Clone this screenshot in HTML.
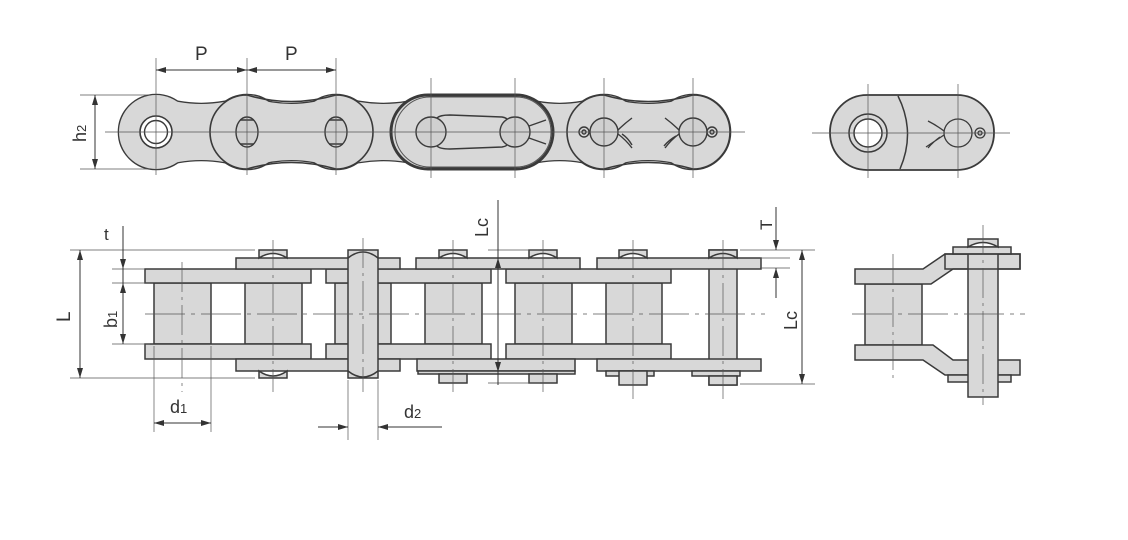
<!DOCTYPE html>
<html><head><meta charset="utf-8"><style>
html,body{margin:0;padding:0;background:#fff;}
svg{display:block;}
text{font-family:"Liberation Sans",sans-serif;fill:#333;}
</style></head><body>
<svg width="1128" height="540" viewBox="0 0 1128 540" xmlns="http://www.w3.org/2000/svg">
<defs>
<marker id="a" viewBox="0 0 10 6" refX="10" refY="3" markerWidth="10" markerHeight="6" orient="auto-start-reverse" markerUnits="userSpaceOnUse"><path d="M0,0 L10,3 L0,6 Z" fill="#333"/></marker>
</defs>
<rect width="1128" height="540" fill="#fff"/>

<!-- ===== TOP VIEW ===== -->
<g id="chainTop">
<!-- stroke layer -->
<g stroke="#3a3a3a" stroke-width="2.6" fill="#3a3a3a">
<circle cx="156" cy="132" r="37"/><circle cx="247" cy="132" r="37"/><circle cx="336" cy="132" r="37"/>
<circle cx="604" cy="132" r="37"/><circle cx="693" cy="132" r="37"/>
<path d="M156 96 Q201 112 247 96 L247 168 Q201 152 156 168Z"/>
<path d="M247 96 Q291 112 336 96 L336 168 Q291 152 247 168Z"/>
<path d="M336 96 Q383 112 431 96 L431 168 Q383 152 336 168Z"/>
<path d="M515 96 Q560 112 604 96 L604 168 Q560 152 515 168Z"/>
<path d="M604 96 Q648 112 693 96 L693 168 Q648 152 604 168Z"/>
</g>
<g fill="#d8d8d8">
<circle cx="156" cy="132" r="37"/><circle cx="247" cy="132" r="37"/><circle cx="336" cy="132" r="37"/>
<circle cx="604" cy="132" r="37"/><circle cx="693" cy="132" r="37"/>
<path d="M156 96 Q201 112 247 96 L247 168 Q201 152 156 168Z"/>
<path d="M247 96 Q291 112 336 96 L336 168 Q291 152 247 168Z"/>
<path d="M336 96 Q383 112 431 96 L431 168 Q383 152 336 168Z"/>
<path d="M515 96 Q560 112 604 96 L604 168 Q560 152 515 168Z"/>
<path d="M604 96 Q648 112 693 96 L693 168 Q648 152 604 168Z"/>
</g>
<!-- outer plate 247-336 outline -->
<g stroke="#3a3a3a" stroke-width="1.6" fill="none">
<path d="M247 95 A37 37 0 0 0 247 169 Q291 156 336 169 A37 37 0 0 0 336 95 Q291 108 247 95Z"/>
<path d="M604 95 A37 37 0 0 0 604 169 Q648 156 693 169 A37 37 0 0 0 693 95 Q648 108 604 95Z"/>
</g>
<!-- connector plate -->
<rect x="391" y="95" width="162" height="74" rx="37" fill="#d8d8d8" stroke="#3a3a3a" stroke-width="3"/>
<rect x="395" y="97" width="156" height="70" rx="35" fill="none" stroke="#555" stroke-width="1"/>
<!-- holes -->
<circle cx="156" cy="132" r="16" fill="#fff" stroke="#3a3a3a" stroke-width="1.6"/>
<circle cx="156" cy="132" r="11.5" fill="#fff" stroke="#3a3a3a" stroke-width="1.4"/>
<g stroke="#3a3a3a" stroke-width="1.4" fill="#d0d0d0">
<ellipse cx="247" cy="132" rx="11" ry="15"/><ellipse cx="336" cy="132" rx="11" ry="15"/>
<path d="M240 120 H254 M240 144 H254 M329 120 H343 M329 144 H343" fill="none"/>
<path d="M437 118 Q440 115 450 115 L502 117 Q508 118 509 122 L509 142 Q508 146 502 147 L450 149 Q440 149 437 146Z" fill="#d8d8d8"/>
<ellipse cx="431" cy="132" rx="15" ry="15"/>
<ellipse cx="515" cy="132" rx="15" ry="15"/>
<path d="M529 126 L546 120 M529 138 L546 144" fill="none"/>
<circle cx="604" cy="132" r="14"/><circle cx="693" cy="132" r="14"/>
<circle cx="584" cy="132" r="5" fill="#d8d8d8"/><circle cx="584" cy="132" r="2" fill="#d8d8d8"/>
<circle cx="712" cy="132" r="5" fill="#d8d8d8"/><circle cx="712" cy="132" r="2" fill="#d8d8d8"/>
<path d="M618 130 Q624 124 632 118 M618 134 Q626 140 632 148 M622 134 Q628 138 632 145" fill="none"/>
<path d="M679 130 Q673 124 665 118 M679 134 Q671 140 665 148 M676 136 Q669 140 664 146" fill="none"/>
</g>
</g>
<!-- top centerlines -->
<g stroke="#555" stroke-width="0.7">
<line x1="105" y1="132" x2="745" y2="132"/>
<line x1="156" y1="58" x2="156" y2="175"/><line x1="247" y1="58" x2="247" y2="175"/><line x1="336" y1="58" x2="336" y2="175"/>
<line x1="431" y1="78" x2="431" y2="178"/><line x1="515" y1="78" x2="515" y2="178"/>
<line x1="604" y1="78" x2="604" y2="178"/><line x1="693" y1="78" x2="693" y2="178"/>
<line x1="80" y1="95" x2="150" y2="95"/><line x1="80" y1="169" x2="150" y2="169"/>
</g>
<g stroke="#333" stroke-width="1" fill="none">
<line x1="156" y1="70" x2="247" y2="70" marker-start="url(#a)" marker-end="url(#a)"/>
<line x1="247" y1="70" x2="336" y2="70" marker-start="url(#a)" marker-end="url(#a)"/>
<line x1="95" y1="95" x2="95" y2="169" marker-start="url(#a)" marker-end="url(#a)"/>
</g>
<text x="195" y="60" font-size="19">P</text>
<text x="285" y="60" font-size="19">P</text>
<text transform="translate(86,142) rotate(-90)" font-size="18">h<tspan font-size="13">2</tspan></text>

<!-- right top view -->
<rect x="830" y="95" width="164" height="75" rx="37" fill="#d8d8d8" stroke="#3a3a3a" stroke-width="1.8"/>
<path d="M898 96 Q916 132 900 169" stroke="#3a3a3a" stroke-width="1.5" fill="none"/>
<circle cx="868" cy="133" r="19" fill="#d8d8d8" stroke="#3a3a3a" stroke-width="1.5"/>
<circle cx="868" cy="133" r="14" fill="#fff" stroke="#3a3a3a" stroke-width="1.5"/>
<g stroke="#3a3a3a" stroke-width="1.3" fill="#d8d8d8">
<circle cx="958" cy="133" r="14"/><circle cx="980" cy="133" r="5"/><circle cx="980" cy="133" r="2"/>
<path d="M944 131 Q936 125 928 121 M944 135 Q935 141 926 147 M940 137 Q933 142 928 148" fill="none"/>
</g>
<g stroke="#555" stroke-width="0.7">
<line x1="812" y1="133" x2="1010" y2="133"/>
<line x1="868" y1="84" x2="868" y2="178"/><line x1="958" y1="84" x2="958" y2="178"/>
</g>

<!-- ===== BOTTOM VIEW ===== -->
<g stroke="#3a3a3a" stroke-width="1.5" fill="#d8d8d8">
<!-- rollers -->
<rect x="154" y="283" width="57" height="61"/><rect x="245" y="283" width="57" height="61"/>
<rect x="335" y="283" width="56" height="61"/>
<rect x="425" y="283" width="57" height="61"/><rect x="515" y="283" width="57" height="61"/>
<rect x="606" y="283" width="56" height="61"/>
<!-- last pin body -->
<rect x="709" y="250" width="28" height="135"/>
<!-- inner plates -->
<rect x="145" y="269" width="166" height="14"/><rect x="326" y="269" width="165" height="14"/><rect x="506" y="269" width="165" height="14"/>
<rect x="145" y="344" width="166" height="15"/><rect x="326" y="344" width="165" height="15"/><rect x="506" y="344" width="165" height="15"/>
<!-- outer plates -->
<rect x="236" y="258" width="164" height="11"/><rect x="416" y="258" width="164" height="11"/><rect x="597" y="258" width="164" height="11"/>
<rect x="236" y="359" width="164" height="12"/><rect x="417" y="359" width="158" height="12"/><rect x="597" y="359" width="164" height="12"/>
<rect x="418" y="371" width="157" height="3"/>
<rect x="606" y="371" width="48" height="5"/><rect x="692" y="371" width="48" height="5"/>
<!-- pin heads top -->
<path d="M259 258 V250 H287 V258 Q273 249 259 258Z"/>
<path d="M439 258 V250 H467 V258 Q453 249 439 258Z"/>
<path d="M529 258 V250 H557 V258 Q543 249 529 258Z"/>
<path d="M619 258 V250 H647 V258 Q633 249 619 258Z"/>
<path d="M709 258 V250 H737 V258 Q723 249 709 258Z"/>
<!-- bottom heads -->
<path d="M259 371 V378 H287 V371 Q273 381 259 371Z"/>
<rect x="439" y="374" width="28" height="9"/><rect x="529" y="374" width="28" height="9"/>
<rect x="619" y="371" width="28" height="14"/><rect x="709" y="376" width="28" height="9"/>
<!-- connecting pin -->
<path d="M348 250 H378 V378 H348Z"/>
<path d="M348 258 Q363 246 378 258 M348 371 Q363 383 378 371" fill="none"/>
</g>
<!-- center lines bottom -->
<g stroke="#555" stroke-width="0.7">
<line x1="145" y1="314" x2="765" y2="314" stroke-dasharray="40 6 4 6"/>
<line x1="182" y1="262" x2="182" y2="392" stroke-dasharray="30 5 3 5"/>
<line x1="273" y1="240" x2="273" y2="392" stroke-dasharray="30 5 3 5"/>
<line x1="363" y1="238" x2="363" y2="392" stroke-dasharray="30 5 3 5"/>
<line x1="453" y1="240" x2="453" y2="392" stroke-dasharray="30 5 3 5"/>
<line x1="543" y1="240" x2="543" y2="392" stroke-dasharray="30 5 3 5"/>
<line x1="633" y1="240" x2="633" y2="402" stroke-dasharray="30 5 3 5"/>
<line x1="723" y1="240" x2="723" y2="402" stroke-dasharray="30 5 3 5"/>
<!-- extension lines -->
<line x1="70" y1="250" x2="255" y2="250"/><line x1="70" y1="378" x2="255" y2="378"/>
<line x1="112" y1="269" x2="145" y2="269"/><line x1="112" y1="283" x2="150" y2="283"/>
<line x1="112" y1="344" x2="150" y2="344"/>
<line x1="154" y1="346" x2="154" y2="432"/><line x1="211" y1="346" x2="211" y2="432"/>
<line x1="348" y1="380" x2="348" y2="440"/><line x1="378" y1="380" x2="378" y2="440"/>
<line x1="488" y1="250" x2="540" y2="250"/><line x1="488" y1="383" x2="540" y2="383"/>
<line x1="740" y1="250" x2="815" y2="250"/><line x1="760" y1="258" x2="790" y2="258"/><line x1="760" y1="268" x2="790" y2="268"/>
<line x1="740" y1="384" x2="815" y2="384"/>
</g>
<g stroke="#333" stroke-width="1" fill="none">
<line x1="80" y1="250" x2="80" y2="378" marker-start="url(#a)" marker-end="url(#a)"/>
<line x1="123" y1="226" x2="123" y2="269" marker-end="url(#a)"/>
<line x1="123" y1="283" x2="123" y2="269"/>
<line x1="123" y1="283" x2="123" y2="344" marker-start="url(#a)" marker-end="url(#a)"/>
<line x1="154" y1="423" x2="211" y2="423" marker-start="url(#a)" marker-end="url(#a)"/>
<line x1="318" y1="427" x2="348" y2="427" marker-end="url(#a)"/>
<line x1="442" y1="427" x2="378" y2="427" marker-end="url(#a)"/>
<line x1="498" y1="200" x2="498" y2="385"/>
<line x1="498" y1="270" x2="498" y2="258" marker-end="url(#a)"/>
<line x1="498" y1="360" x2="498" y2="372" marker-end="url(#a)"/>
<line x1="776" y1="207" x2="776" y2="250" marker-end="url(#a)"/>
<line x1="776" y1="298" x2="776" y2="268" marker-end="url(#a)"/>
<line x1="802" y1="250" x2="802" y2="384" marker-start="url(#a)" marker-end="url(#a)"/>
</g>
<text transform="translate(70,322) rotate(-90)" font-size="19">L</text>
<text x="104" y="240" font-size="17">t</text>
<text transform="translate(117,328) rotate(-90)" font-size="18">b<tspan font-size="13">1</tspan></text>
<text x="170" y="413" font-size="18">d<tspan font-size="13">1</tspan></text>
<text x="404" y="418" font-size="18">d<tspan font-size="13">2</tspan></text>
<text transform="translate(488,237) rotate(-90)" font-size="18">Lc</text>
<text transform="translate(772,230) rotate(-90)" font-size="17">T</text>
<text transform="translate(797,330) rotate(-90)" font-size="18">Lc</text>

<!-- right bottom view -->
<g stroke="#3a3a3a" stroke-width="1.5" fill="#d8d8d8">
<rect x="865" y="284" width="57" height="61"/>
<path d="M855 269 H923 L945 254 H1020 V269 H953 L931 284 H855Z"/>
<path d="M855 345 H933 L953 360 H1020 V375 H945 L923 360 H855Z"/>
<rect x="948" y="375" width="63" height="7"/>
<rect x="968" y="247" width="30" height="150"/>
<rect x="953" y="247" width="58" height="7"/>
<path d="M968 247 V239 H998 V247 Q983 238 968 247Z"/>
</g>
<g stroke="#3a3a3a" stroke-width="1.5" fill="#d8d8d8">
<rect x="945" y="254" width="75" height="15" fill="none"/>
</g>
<g stroke="#555" stroke-width="0.7">
<line x1="852" y1="314" x2="1025" y2="314" stroke-dasharray="40 6 4 6"/>
<line x1="893" y1="254" x2="893" y2="380" stroke-dasharray="30 5 3 5"/>
<line x1="983" y1="225" x2="983" y2="405" stroke-dasharray="30 5 3 5"/>
</g>
</svg>
</body></html>
